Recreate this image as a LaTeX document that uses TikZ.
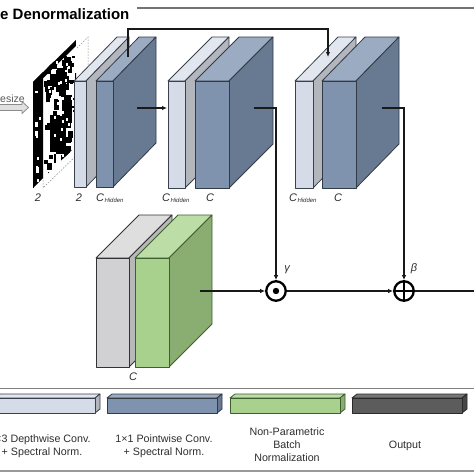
\documentclass[tikz,border=0pt]{standalone}
\usepackage{fontspec}
\setmainfont{Liberation Sans}
\usetikzlibrary{arrows.meta}
\definecolor{ltF}{HTML}{D5DCE8}
\definecolor{ltT}{HTML}{E2E6EE}
\definecolor{ltS}{HTML}{B3B6BC}
\definecolor{ltE}{HTML}{39414D}
\definecolor{blF}{HTML}{7F93AE}
\definecolor{blT}{HTML}{9BABC1}
\definecolor{blS}{HTML}{687A92}
\definecolor{blE}{HTML}{323A46}
\definecolor{gyF}{HTML}{D1D1D3}
\definecolor{gyT}{HTML}{DEDEDE}
\definecolor{gyS}{HTML}{B8B8B8}
\definecolor{gyE}{HTML}{333333}
\definecolor{grF}{HTML}{A9D18E}
\definecolor{grT}{HTML}{BDDDA7}
\definecolor{grS}{HTML}{8AAE71}
\definecolor{grE}{HTML}{3D5E2E}
\definecolor{dkF}{HTML}{5C5C5C}
\definecolor{dkT}{HTML}{777777}
\definecolor{dkS}{HTML}{474747}
\definecolor{dkE}{HTML}{2A2A2A}
\definecolor{txt}{HTML}{2E2E2E}
\newcommand\slabbox[7]{%
  \filldraw[fill=#5T, draw=#5E, slabedge] (#1,#3) -- ++(#6,#7) -- ++({#2-#1},0) -- (#2,#3) -- cycle;
  \filldraw[fill=#5S, draw=#5E, slabedge] (#2,#3) -- ++(#6,#7) -- ++(0,{#4-#3}) -- (#2,#4) -- cycle;
  \filldraw[fill=#5F, draw=#5E, slabedge] (#1,#3) rectangle (#2,#4);
}
\begin{document}
\begin{tikzpicture}[x=1pt,y=-1pt,
  slabedge/.style={line width=0.8pt, line join=round},
  conn/.style={line width=1.3pt, draw=black!90, -{Latex[length=5pt,width=4.5pt]}},
  plainline/.style={line width=1.3pt, draw=black!90},
  opnode/.style={circle, draw=black, line width=2.3pt, minimum size=19.5pt, inner sep=0pt},
  lab/.style={font=\fontsize{11}{12}\selectfont\itshape, text=txt, inner sep=0pt},
  sublab/.style={font=\fontsize{6}{7}\selectfont\itshape, text=txt, inner sep=0pt},
  legtxt/.style={font=\fontsize{10.7}{13}\selectfont, text=txt, align=center, inner sep=0pt},
  frameline/.style={draw=black!55, line width=1.2pt}]
\useasboundingbox (0,0) rectangle (474,474);
\clip (0,0) rectangle (474,474);
\fill[white] (0,0) rectangle (474,474);

% title and frame
\node[anchor=base west, inner sep=0pt, font=\fontsize{15}{18}\selectfont\bfseries] (title) at (0,19) {e Denormalization};
\coordinate (frameL) at (137,8);
\coordinate (frameR) at (476,8);
\draw[frameline] (frameL) -- (frameR);

% resize arrow
\node[anchor=base west, inner sep=0pt, font=\fontsize{10.5}{12}\selectfont, text=black!65] (resize) at (0,102.5) {esize};
\filldraw[fill=black!12, draw=black!45, line width=0.8pt, line join=round]
  (-2,104.5) -- (22,104.5) -- (22,101.5) -- (28.5,107.5) -- (22,113.5) -- (22,110.5) -- (-2,110.5) -- cycle;

% binary image (two channels)
\draw[black!45, line width=0.5pt, dash pattern=on 1.5pt off 1.5pt] (43,82) -- (88,37) -- (88,144) -- (43,188) -- cycle;
\begin{scope}
  \clip (33,82) -- (76,40) -- (76,146) -- (33,188) -- cycle;
  \fill[white] (33,82) -- (76,40) -- (76,146) -- (33,188) -- cycle;
  \fill[black] (33,82) -- (43,72) -- (43,178) -- (33,188) -- cycle;
  \fill[black] (33,82) -- (76,40) -- (76,46) -- (33,88) -- cycle;
  \fill[black] (50,115) rectangle (66,150);
  \fill[black] (56,70) rectangle (64,92);
  \fill[black] (62,95) rectangle (72,120);
  \pgfmathsetseed{11}
  \foreach \i in {1,...,95} {
    \pgfmathsetmacro\rx{44+31*rnd}
    \pgfmathsetmacro\ry{55+120*rnd}
    \pgfmathsetmacro\rw{2+6*rnd}
    \pgfmathsetmacro\rh{2+10*rnd}
    \fill[black] (\rx,\ry) rectangle ++(\rw,\rh);
  }
  \foreach \i in {1,...,30} {
    \pgfmathsetmacro\rx{44+31*rnd}
    \pgfmathsetmacro\ry{60+110*rnd}
    \fill[white] (\rx,\ry) rectangle ++(2,3);
  }
  \foreach \i in {1,...,10} {
    \pgfmathsetmacro\ry{90+90*rnd}
    \pgfmathsetmacro\rh{2+4*rnd}
    \fill[white] (35+4*rnd,\ry) rectangle ++(2.5,\rh);
  }
\end{scope}
\draw[black, line width=0.6pt] (33,82) -- (33,188);

% group 1
\slabbox{74}{86}{81}{187}{lt}{43}{-44}
\slabbox{96}{113}{81}{187}{bl}{43}{-44}
% group 2
\slabbox{168}{185}{81}{188}{lt}{44}{-44}
\slabbox{195}{229}{81}{188}{bl}{44}{-44}
% group 3
\slabbox{295}{313}{81}{188}{lt}{43}{-44}
\slabbox{322}{356}{81}{188}{bl}{43}{-44}
% bottom group
\slabbox{96}{129}{258}{367}{gy}{43}{-43}
\slabbox{135}{169}{258}{367}{gr}{43}{-43}

% labels under blocks
\node[lab, anchor=base] (l1) at (38,201) {2};
\node[lab, anchor=base] (l2) at (79,201) {2};
\node[lab, anchor=base west] (l3) at (96,201) {C};
\node[sublab, anchor=base west] (l3s) at (l3.base east) [yshift=-1.3pt] {Hidden};
\node[lab, anchor=base west] (l4) at (162,201) {C};
\node[sublab, anchor=base west] (l4s) at (l4.base east) [yshift=-1.3pt] {Hidden};
\node[lab, anchor=base] (l5) at (210,201) {C};
\node[lab, anchor=base west] (l6) at (289,201) {C};
\node[sublab, anchor=base west] (l6s) at (l6.base east) [yshift=-1.3pt] {Hidden};
\node[lab, anchor=base] (l7) at (338,201) {C};
\node[lab, anchor=base] (l8) at (133,380) {C};

% operators
\node[opnode] (mul) at (276,291) {};
\fill[black] (mul.center) circle (3.2);
\node[opnode] (add) at (404,291) {};
\draw[black, line width=2pt] (add.north) -- (add.south);
\draw[black, line width=2pt] (add.west) -- (add.east);
\node[lab, anchor=base] (gam) at (287,271) {γ};
\node[lab, anchor=base] (bet) at (414,271) {β};

% connectors
\coordinate (skipS) at (128,57);
\coordinate (skipT) at (328,57);
\draw[conn] (skipS) -- (128,29) -| (skipT);
\coordinate (g1out) at (137,108);
\coordinate (g2in) at (167,108);
\draw[conn] (g1out) -- (g2in);
\coordinate (g2out) at (254,108);
\draw[conn] (g2out) -| (mul.north);
\coordinate (g3out) at (382,108);
\draw[conn] (g3out) -| (add.north);
\coordinate (grout) at (200,291);
\draw[conn] (grout) -- (mul.west);
\draw[conn] (mul.east) -- (add.west);
\coordinate (outR) at (478,291);
\draw[plainline] (add.east) -- (outR);

% legend frame
\coordinate (legTL) at (-2,388.5);
\coordinate (legTR) at (476,388.5);
\coordinate (legBL) at (-2,471);
\coordinate (legBR) at (476,471);
\draw[draw=black!50, line width=1.8pt] (legTL) -- (legTR);
\draw[draw=black!40, line width=2.5pt] (legBL) -- (legBR);

% legend bars
\slabbox{-5}{95}{398}{413}{lt}{5}{-4}
\slabbox{107}{217}{398}{413}{bl}{5}{-4}
\slabbox{230}{340}{398}{413}{gr}{5}{-4}
\slabbox{352}{462}{398}{413}{dk}{5}{-4}

% legend texts
\node[legtxt, anchor=base] (t1a) at (43,442) {×3 Depthwise Conv.};
\node[legtxt, anchor=base] (t1b) at (42,455) {+ Spectral Norm.};
\node[legtxt, anchor=base] (t2a) at (164,442) {1×1 Pointwise Conv.};
\node[legtxt, anchor=base] (t2b) at (164,455) {+ Spectral Norm.};
\node[legtxt, anchor=base] (t3a) at (287,435) {Non-Parametric};
\node[legtxt, anchor=base] (t3b) at (287,448) {Batch};
\node[legtxt, anchor=base] (t3c) at (287,461) {Normalization};
\node[legtxt, anchor=base] (t4) at (405,448) {Output};
\end{tikzpicture}
\end{document}
